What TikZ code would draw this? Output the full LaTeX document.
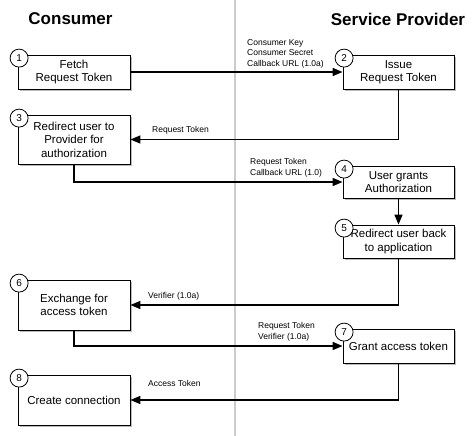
\documentclass[tikz,border=0pt]{standalone}
\usepackage{fontspec}
\setmainfont{Liberation Sans}
\usetikzlibrary{arrows.meta,shadows}
\begin{document}
\begin{tikzpicture}[x=1pt,y=-1pt,
  stepbox/.style={draw=black,line width=0.8pt,fill=white,minimum width=112pt,inner sep=0pt,align=center,
    font=\fontsize{11.5}{13.5}\selectfont,
    drop shadow={shadow xshift=1.8pt,shadow yshift=-1.8pt,opacity=0.45,fill=black!60}},
  numcirc/.style={circle,draw=black,line width=0.8pt,fill=white,minimum size=18pt,inner sep=0pt,font=\fontsize{10}{10}\selectfont},
  flow/.style={line width=1.5pt,-{Triangle[length=10pt,width=8pt]}},
  lbl/.style={font=\fontsize{8.5}{10.7}\selectfont,align=left,inner sep=0pt},
  title/.style={font=\fontsize{17}{17}\selectfont\bfseries,inner sep=0pt}]
\useasboundingbox (0,0) rectangle (474,436);
\fill[white] (0,0) rectangle (474,436);
\draw[line width=2pt,black!20] (235,0) -- (235,436);
\node[title] (tc) at (70.5,19) {Consumer};
\node[title] (tp) at (398,19) {Service Provider};

\node[stepbox,minimum height=34pt] (b1) at (74,72) {Fetch\\Request Token};
\node[stepbox,minimum height=34pt,minimum width=111pt] (b2) at (398.5,72) {Issue\\Request Token};
\node[stepbox,minimum height=49pt] (b3) at (74,139.5) {Redirect user to\\Provider for\\authorization};
\node[stepbox,minimum height=32pt,minimum width=111pt] (b4) at (398.5,182) {User grants\\Authorization};
\node[stepbox,minimum height=33pt,minimum width=111pt] (b5) at (398.5,241.5) {Redirect user back\\to application};
\node[stepbox,minimum height=50pt] (b6) at (74,305) {Exchange for\\access token};
\node[stepbox,minimum height=34pt,minimum width=111pt] (b7) at (398.5,346) {Grant access token};
\node[stepbox,minimum height=50pt] (b8) at (74,400) {Create connection};

\foreach \b/\n in {b1/1,b2/2,b3/3,b4/4,b5/5,b6/6,b7/7,b8/8}
  \node[numcirc] (c\n) at ([xshift=1.5pt,yshift=-3.5pt]\b.north west) {\n};

\draw[flow] (b1.east) -- (b2.west);
\draw[flow] (b2.south) |- (b3.east);
\draw[flow] (b3.south) |- (b4.west);
\draw[flow] (b4.south) -- (b5.north);
\draw[flow] (b5.south) |- (b6.east);
\draw[flow] (b6.south) |- (b7.west);
\draw[flow] (b7.south) |- (b8.east);

\node[lbl,anchor=north west] (l12) at (247,39) {Consumer Key\\Consumer Secret\\Callback URL (1.0a)};
\node[lbl,anchor=north west] (l23) at (152,126) {Request Token};
\node[lbl,anchor=north west] (l34) at (250,158) {Request Token\\Callback URL (1.0)};
\node[lbl,anchor=north west] (l56) at (148,292) {Verifier (1.0a)};
\node[lbl,anchor=north west] (l67) at (258,322) {Request Token\\Verifier (1.0a)};
\node[lbl,anchor=north west] (l78) at (148,380) {Access Token};
\end{tikzpicture}
\end{document}
